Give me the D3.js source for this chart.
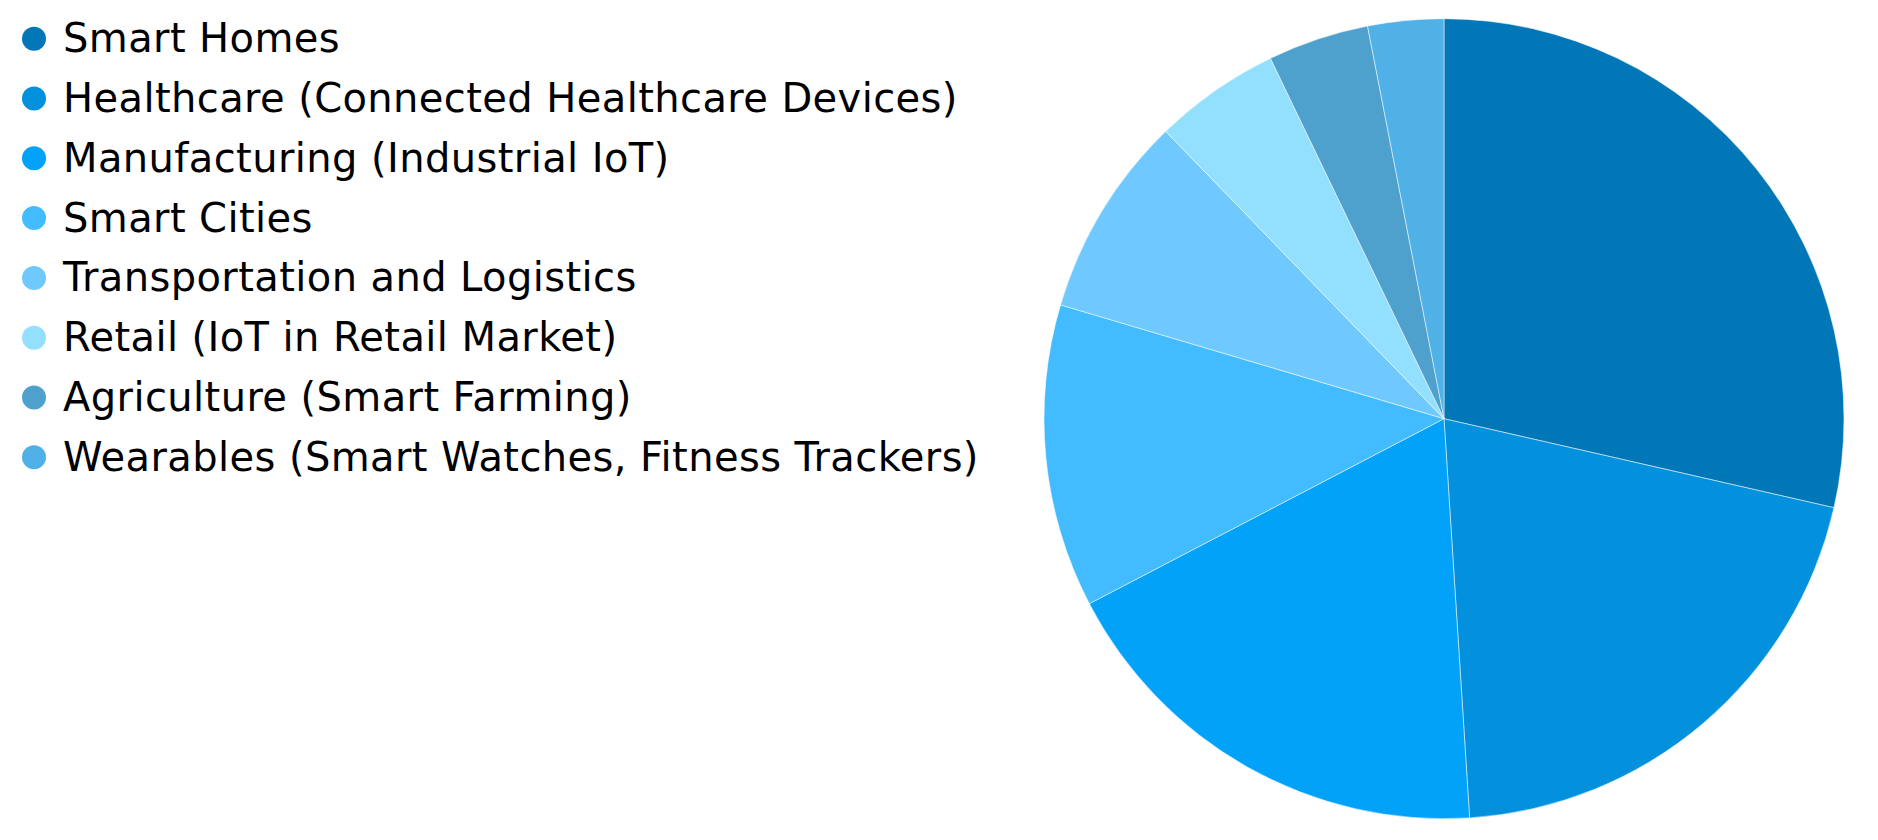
<!DOCTYPE html>
<html>
<head>
<meta charset="utf-8">
<script src="https://cdn.jsdelivr.net/npm/d3@7"></script>
<style>
    html, body { margin: 0; padding: 0; background: #fff; }
    svg { display: block; }
</style>
</head>
<body>
<div id="chart"></div>
<script>
// segments of the pie, clockwise from 12 o'clock
const categories = [
    "Smart Homes",
    "Healthcare (Connected Healthcare Devices)",
    "Manufacturing (Industrial IoT)",
    "Smart Cities",
    "Transportation and Logistics",
    "Retail (IoT in Retail Market)",
    "Agriculture (Smart Farming)",
    "Wearables (Smart Watches, Fitness Trackers)"
];
const values = [70, 50, 45, 30, 20, 12.5, 10, 7.5];
const colors = ["#0277b8", "#0391de", "#02a2f9", "#42bcfe", "#70c9fe", "#93e0fe", "#4fa1cd", "#4fb1e6"];

const width = 1878, height = 840;

const svg = d3.select("#chart")
    .append("svg")
        .attr("width", width)
        .attr("height", height);

//pie
const center = { x: 1444, y: 418.7 };
const radius = 400;

const pie = d3.pie().sort(null).value(d => d.value);
const arc = d3.arc().innerRadius(0).outerRadius(radius);
const color = d3.scaleOrdinal().domain(categories).range(colors);

const data = categories.map((c, i) => ({ name: c, value: values[i] }));

svg.append("g")
        .attr("transform", `translate(${center.x}, ${center.y})`)
    .selectAll("path")
    .data(pie(data))
    .join("path")
        .attr("d", arc)
        .attr("fill", d => color(d.data.name))
        .attr("stroke", "#fff")
        .attr("stroke-width", 0.5);

//legend
const legend = svg.append("g").attr("transform", "translate(34, 38.7)");
const row = legend.selectAll("g")
    .data(categories)
    .join("g")
        .attr("transform", (d, i) => `translate(0, ${i * 59.8})`);

row.append("circle")
    .attr("r", 12)
    .attr("fill", d => color(d));

row.append("text")
    .attr("x", 29)
    .attr("y", 13.5)
    .attr("font-family", "'DejaVu Sans', Verdana, sans-serif")
    .attr("font-size", 40)
    .attr("letter-spacing", 0.4)
    .attr("fill", "#000")
    .text(d => d);
</script>
</body>
</html>
